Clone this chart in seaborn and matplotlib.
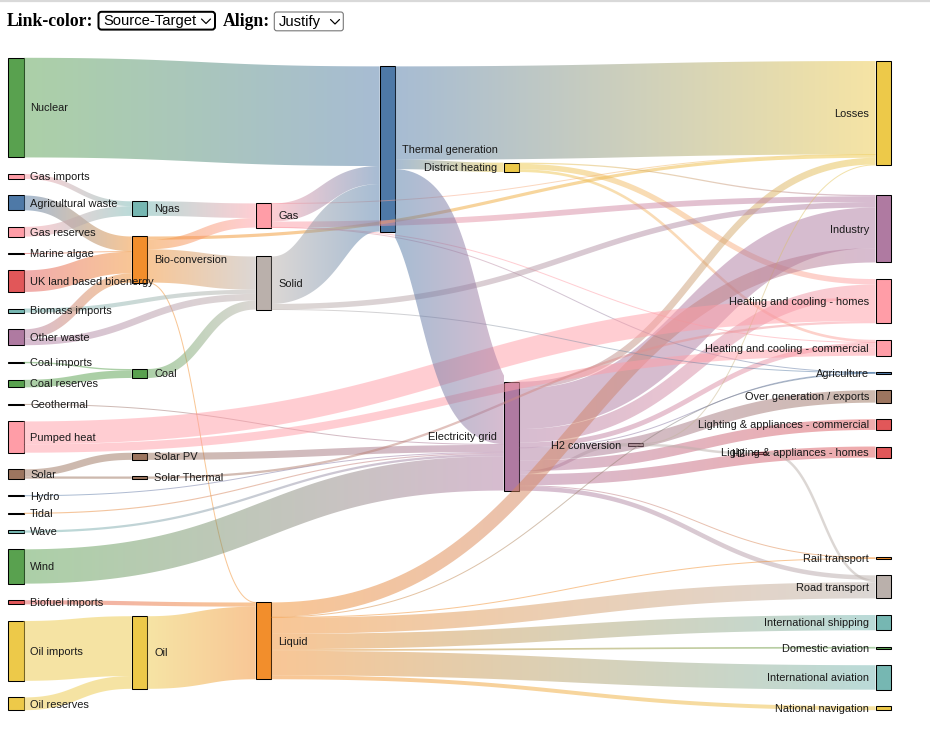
import numpy as np
import matplotlib
matplotlib.use("Agg")
import matplotlib.pyplot as plt
from matplotlib.path import Path
from matplotlib.patches import PathPatch, Rectangle, FancyBboxPatch
import seaborn as sns

# ---------- 1. Data: UK energy flows (TWh) ----------
sources = [
    "Agricultural waste",
    "Bio-conversion", "Bio-conversion", "Bio-conversion", "Bio-conversion",
    "Biofuel imports", "Biomass imports", "Coal imports", "Coal reserves", "Coal",
    "District heating", "District heating", "District heating",
    "Electricity grid", "Electricity grid", "Electricity grid", "Electricity grid",
    "Electricity grid", "Electricity grid", "Electricity grid", "Electricity grid",
    "Electricity grid", "Electricity grid", "Electricity grid",
    "Gas imports", "Gas reserves",
    "Gas", "Gas", "Gas", "Gas", "Gas",
    "Geothermal", "H2 conversion", "H2 conversion", "H2", "Hydro",
    "Liquid", "Liquid", "Liquid", "Liquid", "Liquid", "Liquid", "Liquid", "Liquid",
    "Marine algae", "Ngas", "Nuclear", "Oil imports", "Oil reserves", "Oil",
    "Other waste", "Other waste", "Pumped heat", "Pumped heat",
    "Solar PV", "Solar Thermal", "Solar", "Solar",
    "Solid", "Solid", "Solid",
    "Thermal generation", "Thermal generation", "Thermal generation",
    "Tidal", "UK land based bioenergy", "Wave", "Wind",
]
targets = [
    "Bio-conversion",
    "Liquid", "Losses", "Solid", "Gas",
    "Liquid", "Solid", "Coal", "Coal", "Solid",
    "Industry", "Heating and cooling - commercial", "Heating and cooling - homes",
    "Over generation / exports", "Heating and cooling - homes", "H2 conversion", "Industry",
    "Road transport", "Agriculture", "Heating and cooling - commercial", "Losses",
    "Rail transport", "Lighting & appliances - commercial", "Lighting & appliances - homes",
    "Ngas", "Ngas",
    "Heating and cooling - commercial", "Losses", "Thermal generation", "Agriculture", "Industry",
    "Electricity grid", "H2", "Losses", "Road transport", "Electricity grid",
    "Industry", "International shipping", "Road transport", "Domestic aviation",
    "International aviation", "Agriculture", "National navigation", "Rail transport",
    "Bio-conversion", "Gas", "Thermal generation", "Oil", "Oil", "Liquid",
    "Solid", "Bio-conversion", "Heating and cooling - homes", "Heating and cooling - commercial",
    "Electricity grid", "Heating and cooling - homes", "Solar Thermal", "Solar PV",
    "Agriculture", "Thermal generation", "Industry",
    "Electricity grid", "Losses", "District heating",
    "Electricity grid", "Bio-conversion", "Electricity grid", "Electricity grid",
]
values = [
    124.729,
    0.597, 26.862, 280.322, 81.144,
    35.0, 35.0, 11.606, 63.965, 75.571,
    10.639, 22.505, 46.184,
    104.453, 113.726, 27.14, 342.165,
    37.797, 4.412, 40.858, 56.691,
    7.863, 90.008, 93.494,
    40.719, 82.233,
    0.129, 1.401, 151.891, 2.096, 48.58,
    7.013, 20.897, 6.242, 20.897, 6.995,
    121.066, 128.69, 135.835, 14.458, 206.267, 3.64, 33.218, 4.413,
    4.375, 122.952, 839.978, 504.287, 107.703, 611.99,
    56.587, 77.81, 193.026, 70.672,
    59.901, 19.263, 19.263, 59.901,
    0.882, 400.12, 46.477,
    525.531, 787.129, 79.329,
    9.452, 182.01, 19.013, 289.366,
]

# ---------- 2. Style and layout settings ----------
W, H = 930, 740
X0, X1 = 7.8, 891.2          # horizontal extent of the node columns (px)
Y0, Y1 = 57.8, 710.2         # vertical extent of the node columns (px)
NODE_W = 15.7
NODE_PAD = 16.6
ITERATIONS = 6
PT = 0.72                    # px -> pt at dpi 100

sns.set_theme(style="white")
plt.rcParams["font.family"] = ["Liberation Sans", "DejaVu Sans"]
palette = sns.color_palette(["#4e79a7", "#f28e2c", "#e15759", "#76b7b2", "#59a14f",
                             "#edc949", "#af7aa1", "#ff9da7", "#9c755f", "#bab0ab"])

# ---------- 3. Build the graph ----------
names = list(dict.fromkeys(sources + targets))
nodes = [{"name": nm, "i": k, "src": [], "tgt": []} for k, nm in enumerate(names)]
by_name = {nd["name"]: nd for nd in nodes}
links = []
for k, (s, t, v) in enumerate(zip(sources, targets, values)):
    lk = {"source": by_name[s], "target": by_name[t], "value": v, "index": k}
    by_name[s]["src"].append(lk)
    by_name[t]["tgt"].append(lk)
    links.append(lk)

for nd in nodes:
    nd["value"] = max(sum(l["value"] for l in nd["src"]),
                      sum(l["value"] for l in nd["tgt"]))

# category = first word of the name, coloured in order of appearance
categories = list(dict.fromkeys(nm.split(" ")[0] for nm in names))
cat_color = {c: palette[k % len(palette)] for k, c in enumerate(categories)}
for nd in nodes:
    nd["color"] = np.array(cat_color[nd["name"].split(" ")[0]])

# ---------- 4. Sankey layout (justify alignment, relaxation) ----------
current, depth = set(range(len(nodes))), 0
while current:
    nxt = set()
    for k in current:
        nodes[k]["depth"] = depth
        nxt.update(l["target"]["i"] for l in nodes[k]["src"])
    current, depth = nxt, depth + 1

n_cols = max(nd["depth"] for nd in nodes) + 1
kx = (X1 - X0 - NODE_W) / (n_cols - 1)
columns = [[] for _ in range(n_cols)]
for nd in nodes:
    layer = nd["depth"] if nd["src"] else n_cols - 1
    nd["layer"] = layer
    nd["x0"] = X0 + layer * kx
    nd["x1"] = nd["x0"] + NODE_W
    nd["y0"] = None
    columns[layer].append(nd)

py = min(NODE_PAD, (Y1 - Y0) / (max(len(c) for c in columns) - 1))
ky = min((Y1 - Y0 - (len(c) - 1) * py) / sum(nd["value"] for nd in c) for c in columns)


def by_target(l):
    y = l["target"]["y0"]
    return (0 if y is None else y, l["index"])


def by_source(l):
    y = l["source"]["y0"]
    return (0 if y is None else y, l["index"])


for col in columns:
    y = Y0
    for nd in col:
        nd["y0"] = y
        nd["y1"] = y + nd["value"] * ky
        y = nd["y1"] + py
        for l in nd["src"]:
            l["width"] = l["value"] * ky
    y = (Y1 - y + py) / (len(col) + 1)
    for k, nd in enumerate(col):
        nd["y0"] += y * (k + 1)
        nd["y1"] += y * (k + 1)
    for nd in col:
        nd["src"].sort(key=by_target)
        nd["tgt"].sort(key=by_source)


def target_top(src, tgt):
    y = src["y0"] - (len(src["src"]) - 1) * py / 2
    for l in src["src"]:
        if l["target"] is tgt:
            break
        y += l["width"] + py
    for l in tgt["tgt"]:
        if l["source"] is src:
            break
        y -= l["width"]
    return y


def source_top(src, tgt):
    y = tgt["y0"] - (len(tgt["tgt"]) - 1) * py / 2
    for l in tgt["tgt"]:
        if l["source"] is src:
            break
        y += l["width"] + py
    for l in src["src"]:
        if l["target"] is tgt:
            break
        y -= l["width"]
    return y


def reorder_node_links(nd):
    for l in nd["tgt"]:
        l["source"]["src"].sort(key=by_target)
    for l in nd["src"]:
        l["target"]["tgt"].sort(key=by_source)


def push_down(col, y, k, alpha):
    for nd in col[k:]:
        d = (y - nd["y0"]) * alpha
        if d > 1e-6:
            nd["y0"] += d
            nd["y1"] += d
        y = nd["y1"] + py


def push_up(col, y, k, alpha):
    for j in range(k, -1, -1):
        nd = col[j]
        d = (nd["y1"] - y) * alpha
        if d > 1e-6:
            nd["y0"] -= d
            nd["y1"] -= d
        y = nd["y0"] - py


def resolve(col, alpha):
    m = len(col) >> 1
    sub = col[m]
    push_up(col, sub["y0"] - py, m - 1, alpha)
    push_down(col, sub["y1"] + py, m + 1, alpha)
    push_up(col, Y1, len(col) - 1, alpha)
    push_down(col, Y0, 0, alpha)


def relax_right_to_left(alpha, beta):
    for c in range(n_cols - 2, -1, -1):
        col = columns[c]
        for nd in col:
            y = w = 0.0
            for l in nd["src"]:
                v = l["value"] * (l["target"]["layer"] - nd["layer"])
                y += source_top(nd, l["target"]) * v
                w += v
            if not w > 0:
                continue
            d = (y / w - nd["y0"]) * alpha
            nd["y0"] += d
            nd["y1"] += d
            reorder_node_links(nd)
        col.sort(key=lambda n: n["y0"])
        resolve(col, beta)


def relax_left_to_right(alpha, beta):
    for c in range(1, n_cols):
        col = columns[c]
        for nd in col:
            y = w = 0.0
            for l in nd["tgt"]:
                v = l["value"] * (nd["layer"] - l["source"]["layer"])
                y += target_top(l["source"], nd) * v
                w += v
            if not w > 0:
                continue
            d = (y / w - nd["y0"]) * alpha
            nd["y0"] += d
            nd["y1"] += d
            reorder_node_links(nd)
        col.sort(key=lambda n: n["y0"])
        resolve(col, beta)


for it in range(ITERATIONS):
    alpha = 0.99 ** it
    beta = max(1 - alpha, (it + 1) / ITERATIONS)
    relax_right_to_left(alpha, beta)
    relax_left_to_right(alpha, beta)

for nd in nodes:
    a = b = nd["y0"]
    for l in nd["src"]:
        l["y0"] = a + l["width"] / 2
        a += l["width"]
    for l in nd["tgt"]:
        l["y1"] = b + l["width"] / 2
        b += l["width"]

# ---------- 5. Draw ----------
fig = plt.figure(figsize=(W / 100, H / 100), dpi=100)
ax = fig.add_axes([0, 0, 1, 1])

# nodes
for nd in nodes:
    ax.add_patch(Rectangle((nd["x0"], nd["y0"]), NODE_W, nd["y1"] - nd["y0"],
                           facecolor=nd["color"], edgecolor="black",
                           lw=1.05 * PT, zorder=2))

# links: cubic curve stroked into a band, filled with a source->target gradient
tt = np.linspace(0, 1, 90)[:, None]
grad = np.linspace(0, 1, 256)[None, :, None]


def link_band(l):
    sx, tx = l["source"]["x1"], l["target"]["x0"]
    xm = (sx + tx) / 2
    P = np.array([[sx, l["y0"]], [xm, l["y0"]], [xm, l["y1"]], [tx, l["y1"]]])
    pts = ((1 - tt) ** 3 * P[0] + 3 * (1 - tt) ** 2 * tt * P[1]
           + 3 * (1 - tt) * tt ** 2 * P[2] + tt ** 3 * P[3])
    der = (3 * (1 - tt) ** 2 * (P[1] - P[0]) + 6 * (1 - tt) * tt * (P[2] - P[1])
           + 3 * tt ** 2 * (P[3] - P[2]))
    nrm = np.column_stack([-der[:, 1], der[:, 0]]) / np.linalg.norm(der, axis=1)[:, None]
    hw = max(1.0, l["width"]) / 2
    L, R = pts + nrm * hw, pts - nrm * hw
    verts, codes = [], []
    for k in range(len(pts) - 1):
        for tri in ((L[k], L[k + 1], R[k + 1]), (L[k], R[k + 1], R[k])):
            a, b, c = tri
            if (b[0] - a[0]) * (c[1] - a[1]) - (b[1] - a[1]) * (c[0] - a[0]) < 0:
                a, c = c, a
            verts += [a, b, c, a]
            codes += [Path.MOVETO, Path.LINETO, Path.LINETO, Path.CLOSEPOLY]
    allpts = np.vstack([L, R])
    return Path(np.array(verts), codes), sx, tx, allpts[:, 1].min(), allpts[:, 1].max()


for l in links:
    path, sx, tx, ylo, yhi = link_band(l)
    c0, c1 = l["source"]["color"], l["target"]["color"]
    if np.allclose(c0, c1):
        ax.add_patch(PathPatch(path, facecolor=c0, edgecolor="none", alpha=0.5, zorder=3))
    else:
        img = (1 - grad) * c0 + grad * c1
        im = ax.imshow(img, extent=(sx, tx, yhi + 1, ylo - 1), aspect="auto",
                       interpolation="bilinear", alpha=0.5, zorder=3)
        im.set_clip_path(PathPatch(path, transform=ax.transData))

# node labels
for nd in nodes:
    left = nd["x0"] < W / 2
    ax.text(nd["x1"] + 6.6 if left else nd["x0"] - 6.6,
            (nd["y0"] + nd["y1"]) / 2 + 0.35 * 11,
            nd["name"], ha="left" if left else "right", va="baseline",
            fontsize=11 * PT, color="#1a1a1a", zorder=5)

# ---------- 6. Controls row above the chart ----------
ax.axhline(0.8, color="#d9d9d9", lw=1.6)
ax.text(7, 26, "Link-color:", family=["Liberation Serif", "DejaVu Serif"],
        weight="bold", fontsize=17.6 * PT, va="baseline", color="black")
ax.add_patch(FancyBboxPatch((98.5, 11.8), 116.5, 17.8,
                            boxstyle="round,pad=0,rounding_size=3",
                            facecolor="white", edgecolor="black", lw=2 * PT))
ax.text(103, 25.5, "Source-Target", fontsize=14.7 * PT, va="baseline", color="black")
ax.plot([201.5, 206, 210.5], [19, 23.5, 19], color="black", lw=1.2 * PT)
ax.text(222.7, 26, "Align:", family=["Liberation Serif", "DejaVu Serif"],
        weight="bold", fontsize=17.6 * PT, va="baseline", color="black")
ax.add_patch(FancyBboxPatch((274.3, 12), 69, 18.8,
                            boxstyle="round,pad=0,rounding_size=2.5",
                            facecolor="white", edgecolor="#767676", lw=1.1 * PT))
ax.text(279, 26, "Justify", fontsize=14.7 * PT, va="baseline", color="black")
ax.plot([330.5, 335, 339.5], [19.5, 24, 19.5], color="black", lw=1.2 * PT)

ax.set_xlim(0, W)
ax.set_ylim(H, 0)
ax.axis("off")
fig.savefig("out.png", dpi=100)
